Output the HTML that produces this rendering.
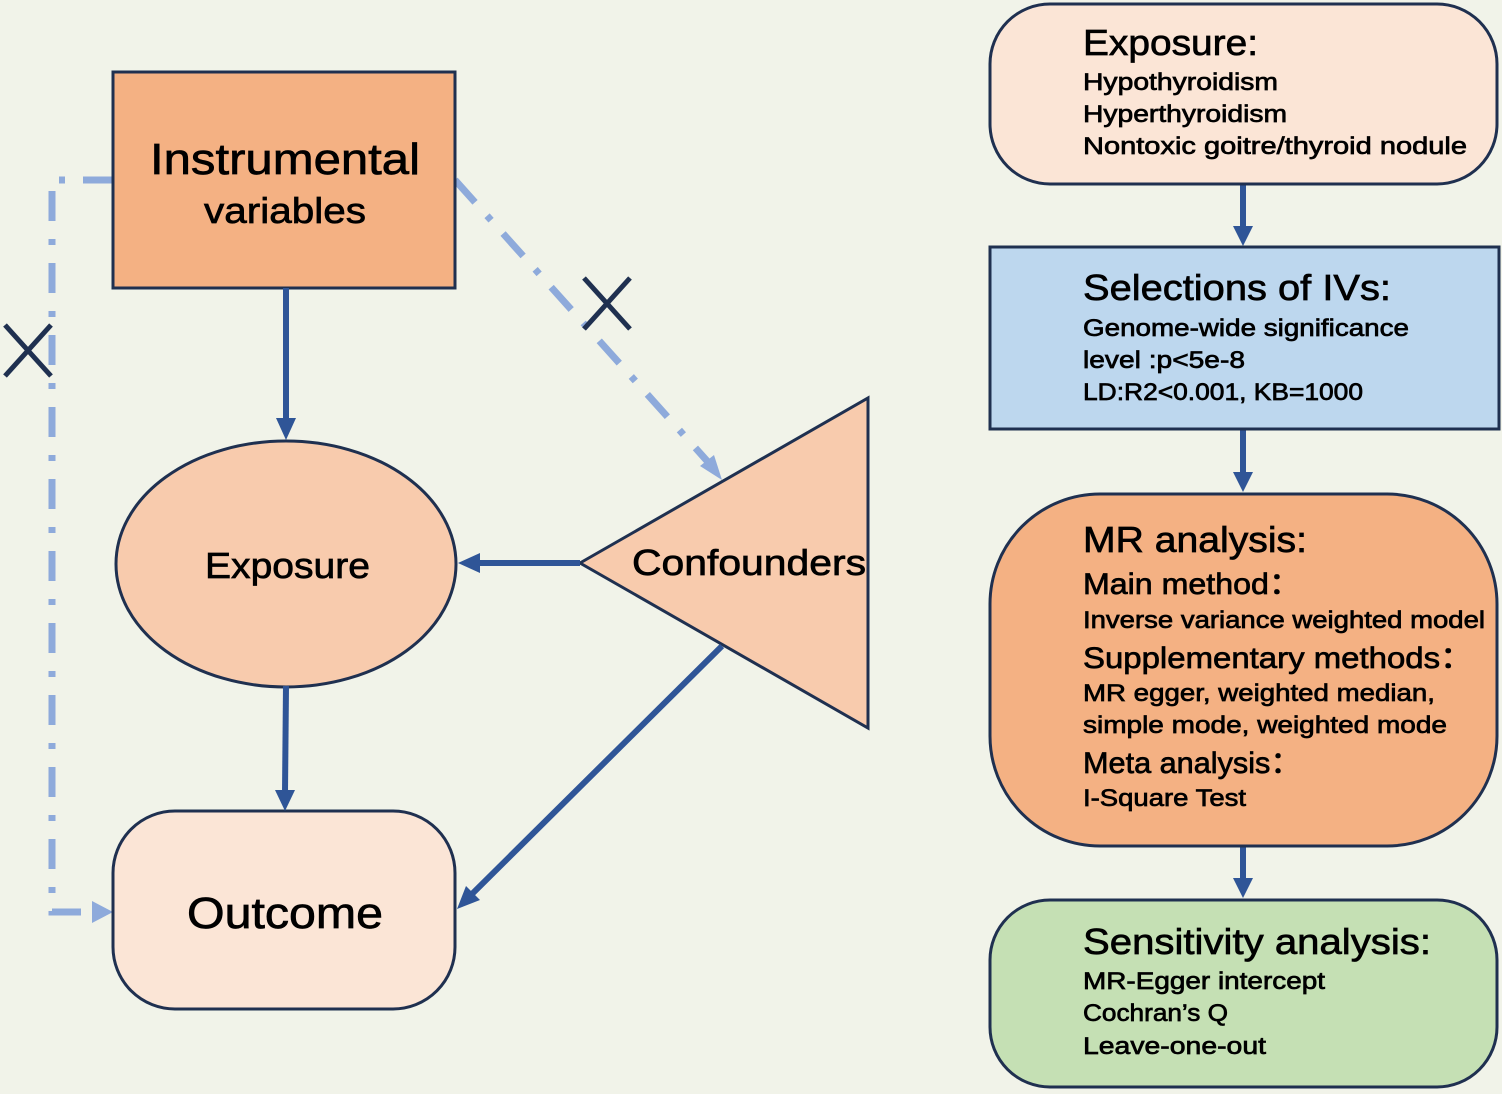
<!DOCTYPE html>
<html><head><meta charset="utf-8"><style>
html,body{margin:0;padding:0;background:#f1f3e9;}
svg{display:block;font-family:"Liberation Sans","Noto Sans CJK SC",sans-serif;}
text{stroke:#000;stroke-width:0.7px;}
</style></head><body>
<svg width="1502" height="1094" viewBox="0 0 1502 1094" xmlns="http://www.w3.org/2000/svg">
<rect width="1502" height="1094" fill="#f1f3e9"/>
<g stroke="#8eaadb" stroke-width="7" fill="none" stroke-dasharray="30,18,6,18">
<polyline points="113,180 52,180 52,912 92,912"/>
<line x1="455" y1="180" x2="708" y2="462"/>
</g>
<path d="M92,901 L113,912 L92,923 z" fill="#8eaadb"/>
<path d="M700,466 L722,480 L714,455 z" fill="#8eaadb"/>
<g stroke="#1f3050" stroke-width="5">
<line x1="5" y1="325" x2="51" y2="376"/><line x1="51" y1="325" x2="5" y2="376"/>
<line x1="584" y1="278" x2="630" y2="329"/><line x1="630" y1="278" x2="584" y2="329"/>
</g>
<rect x="113" y="72" width="342" height="216" fill="#f4b183" stroke="#1f3050" stroke-width="3"/>
<text x="150" y="174" font-size="44" textLength="270" lengthAdjust="spacingAndGlyphs">Instrumental</text>
<text x="204" y="223" font-size="36" textLength="162" lengthAdjust="spacingAndGlyphs">variables</text>
<ellipse cx="286" cy="564" rx="170" ry="123" fill="#f8cbad" stroke="#1f3050" stroke-width="3"/>
<text x="205" y="578" font-size="36" textLength="165" lengthAdjust="spacingAndGlyphs">Exposure</text>
<rect x="113" y="811" width="342" height="198" rx="62" fill="#fbe5d6" stroke="#1f3050" stroke-width="3"/>
<text x="187" y="928" font-size="44" textLength="196" lengthAdjust="spacingAndGlyphs">Outcome</text>
<polygon points="580,563 868,398 868,728" fill="#f8cbad" stroke="#1f3050" stroke-width="3"/>
<text x="632" y="575" font-size="36" textLength="234" lengthAdjust="spacingAndGlyphs">Confounders</text>
<g stroke="#2f5597" stroke-width="6" fill="none">
<line x1="286" y1="288" x2="286" y2="420"/>
<line x1="286" y1="686" x2="285" y2="792"/>
<line x1="580" y1="563" x2="478" y2="563"/>
<line x1="722" y1="646" x2="472" y2="894"/>
<line x1="1243" y1="184" x2="1243" y2="228"/>
<line x1="1243" y1="429" x2="1243" y2="474"/>
<line x1="1243" y1="846" x2="1243" y2="880"/>
</g>
<g fill="#2f5597">
<path d="M276,418 L296,418 L286,440 z"/>
<path d="M275,790 L295,790 L285,811 z"/>
<path d="M480,553 L480,573 L458,563 z"/>
<path d="M466,886 L480,900 L457,909 z"/>
<path d="M1233,226 L1253,226 L1243,246 z"/>
<path d="M1233,472 L1253,472 L1243,492 z"/>
<path d="M1233,878 L1253,878 L1243,898 z"/>
</g>
<rect x="990" y="4" width="507" height="180" rx="60" fill="#fbe5d6" stroke="#1f3050" stroke-width="3"/>
<text x="1083" y="55" font-size="36" textLength="175" lengthAdjust="spacingAndGlyphs">Exposure:</text>
<g font-size="24">
<text x="1083" y="90" textLength="195" lengthAdjust="spacingAndGlyphs">Hypothyroidism</text>
<text x="1083" y="122" textLength="204" lengthAdjust="spacingAndGlyphs">Hyperthyroidism</text>
<text x="1083" y="154" textLength="384" lengthAdjust="spacingAndGlyphs">Nontoxic goitre/thyroid nodule</text>
</g>
<rect x="990" y="247" width="509" height="182" fill="#bdd7ee" stroke="#1f3050" stroke-width="3"/>
<text x="1083" y="300" font-size="36" textLength="308" lengthAdjust="spacingAndGlyphs">Selections of IVs:</text>
<g font-size="24">
<text x="1083" y="336" textLength="326" lengthAdjust="spacingAndGlyphs">Genome-wide significance</text>
<text x="1083" y="368" textLength="162" lengthAdjust="spacingAndGlyphs">level :p&lt;5e-8</text>
<text x="1083" y="400" textLength="280" lengthAdjust="spacingAndGlyphs">LD:R2&lt;0.001, KB=1000</text>
</g>
<rect x="990" y="494" width="507" height="352" rx="110" fill="#f4b183" stroke="#1f3050" stroke-width="3"/>
<text x="1083" y="552" font-size="36" textLength="224" lengthAdjust="spacingAndGlyphs">MR analysis:</text>
<text x="1083" y="594" font-size="30" textLength="218" lengthAdjust="spacingAndGlyphs">Main method：</text>
<text x="1083" y="628" font-size="24" textLength="402" lengthAdjust="spacingAndGlyphs">Inverse variance weighted model</text>
<text x="1083" y="668" font-size="30" textLength="390" lengthAdjust="spacingAndGlyphs">Supplementary methods：</text>
<text x="1083" y="701" font-size="24" textLength="352" lengthAdjust="spacingAndGlyphs">MR egger, weighted median,</text>
<text x="1083" y="733" font-size="24" textLength="364" lengthAdjust="spacingAndGlyphs">simple mode, weighted mode</text>
<text x="1083" y="773" font-size="30" textLength="218" lengthAdjust="spacingAndGlyphs">Meta analysis：</text>
<text x="1083" y="806" font-size="24" textLength="163" lengthAdjust="spacingAndGlyphs">I-Square Test</text>
<rect x="990" y="900" width="507" height="187" rx="60" fill="#c5e0b4" stroke="#1f3050" stroke-width="3"/>
<text x="1083" y="954" font-size="36" textLength="348" lengthAdjust="spacingAndGlyphs">Sensitivity analysis:</text>
<g font-size="24">
<text x="1083" y="989" textLength="242" lengthAdjust="spacingAndGlyphs">MR-Egger intercept</text>
<text x="1083" y="1021" textLength="145" lengthAdjust="spacingAndGlyphs">Cochran’s Q</text>
<text x="1083" y="1054" textLength="183" lengthAdjust="spacingAndGlyphs">Leave-one-out</text>
</g>
</svg>
</body></html>
